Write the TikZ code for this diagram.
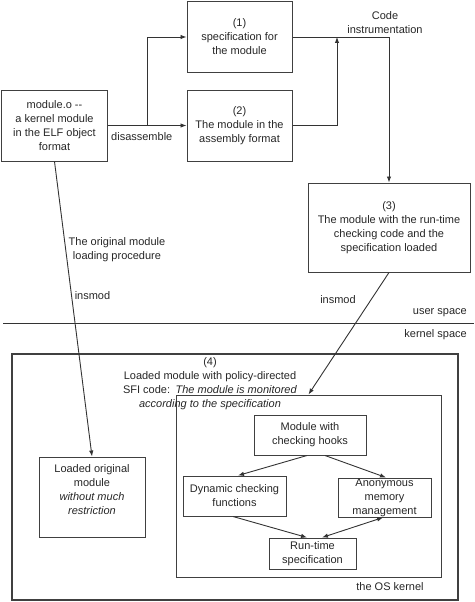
\documentclass[tikz,border=0pt]{standalone}
\usepackage{fontspec}
\setmainfont{Liberation Sans}
\usetikzlibrary{arrows.meta}
\begin{document}
\begin{tikzpicture}[x=1pt,y=-1pt,
  every node/.style={font=\fontsize{11}{14}\selectfont, text=black!85},
  box/.style={draw=black!75, line width=1pt, inner sep=0pt, align=center},
  arr/.style={draw=black!80, line width=0.9pt, -{Latex[length=6pt,width=4.5pt]}},
  darr/.style={draw=black!80, line width=0.9pt, {Latex[length=6pt,width=4.5pt]}-{Latex[length=6pt,width=4.5pt]}},
  ln/.style={draw=black!80, line width=0.9pt},
  lbl/.style={inner sep=0pt, align=center}]
\useasboundingbox (0,0) rectangle (474,602);

% user space boxes
\node[box, minimum width=105pt, minimum height=71pt] (b1) at (239.5,37) {(1)\\specification for\\the module};
\node[box, minimum width=105pt, minimum height=71pt] (b2) at (239.5,125.5) {(2)\\The module in the\\assembly format};
\node[box, minimum width=106pt, minimum height=71pt] (mod) at (54.5,125.5) {module.o -{}-\\a kernel module\\in the ELF object\\format};
\node[box, minimum width=162pt, minimum height=89pt] (b3) at (389,227.5) {(3)\\The module with the run-time\\checking code and the\\specification loaded};

% kernel space boxes
\node[box, line width=1.1pt, minimum width=446pt, minimum height=246pt] (kern) at (235,477) {};
\node[box, minimum width=265pt, minimum height=182pt] (inner) at (308.5,486) {};
\node[lbl] (t4) at (210,384) {(4)\\Loaded module with policy-directed\\SFI code:\enspace\textit{The module is monitored}\\\textit{according to the specification}};

\node[box, minimum width=106pt, minimum height=80pt] (orig) at (92,497) {};
\node[lbl] (origt) at (92,490) {Loaded original\\module\\\textit{without much}\\\textit{restriction}};

\node[box, minimum width=112pt, minimum height=40pt] (hooks) at (310,435) {Module with\\checking hooks};
\node[box, minimum width=103pt, minimum height=40pt] (dyn) at (234.5,496) {Dynamic checking\\functions};
\node[box, minimum width=93pt, minimum height=39pt] (anon) at (384.5,497.5) {Anonymous\\memory\\management};
\node[box, minimum width=87pt, minimum height=31pt] (rt) at (312.5,553.5) {Run-time\\specification};

% connectors
\coordinate (br) at (147,125.5);
\coordinate (ci) at (337,37);
\draw[arr] (mod.east) -- (b2.west);
\draw[arr] (br) |- (b1.west);
\draw[arr] (b1.east) -| (b3.north);
\draw[arr] (b2.east) -| (ci);
\draw[arr] (mod.south) -- (orig.north);
\draw[arr] (b3.south) -- (inner.north);

\draw[arr] ([xshift=-3pt]hooks.south) -- ([xshift=3.5pt]dyn.north);
\draw[arr] ([xshift=15pt]hooks.south) -- ([xshift=1.5pt]anon.north);
\draw[arr] ([xshift=-1.5pt]dyn.south) -- ([xshift=-5.5pt]rt.north);
\draw[darr] ([xshift=9.5pt]rt.north) -- ([xshift=-1.5pt]anon.south);

\coordinate (sepL) at (3,323);
\coordinate (sepR) at (474,323);
\draw[ln] (sepL) -- (sepR);

% labels
\node[lbl] (cil) at (385,23) {Code\\instrumentation};
\node[lbl, anchor=west] (dis) at (111,137) {disassemble};
\node[lbl] (olp) at (117,250) {The original module\\loading procedure};
\node[lbl] (ins1) at (92.5,296) {insmod};
\node[lbl] (ins2) at (338,300) {insmod};
\node[lbl, anchor=east] (us) at (467,313) {user space};
\node[lbl, anchor=east] (ks) at (467,335) {kernel space};
\node[lbl] (osk) at (390,587) {the OS kernel};
\end{tikzpicture}
\end{document}
